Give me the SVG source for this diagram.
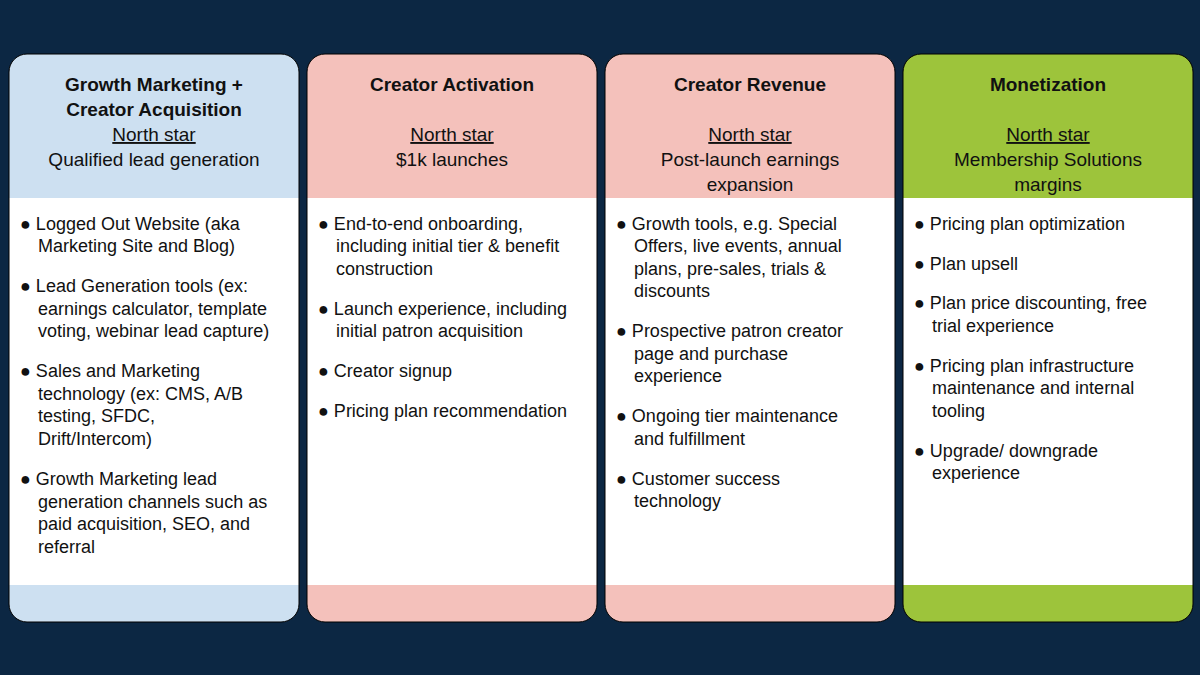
<svg xmlns="http://www.w3.org/2000/svg" width="1200" height="675" viewBox="0 0 1200 675">
<defs>
<style>
text{font-family:"Liberation Sans",Arial,sans-serif;fill:#111;font-size:18px}
.t{font-weight:bold;font-size:19px;text-anchor:middle}
.h{text-anchor:middle;font-size:19px}
.u{text-decoration:underline}
.b{font-size:18px}
</style>
<clipPath id="c1"><rect x="9" y="54" width="290" height="568" rx="18"/></clipPath>
<clipPath id="c2"><rect x="307" y="54" width="290" height="568" rx="18"/></clipPath>
<clipPath id="c3"><rect x="605" y="54" width="290" height="568" rx="18"/></clipPath>
<clipPath id="c4"><rect x="903" y="54" width="290" height="568" rx="18"/></clipPath>
</defs>
<rect width="1200" height="675" fill="#0c2743"/>
<g id="card1">
<g clip-path="url(#c1)"><rect x="9" y="54" width="290" height="568" fill="#cde0f1"/><rect x="9" y="198" width="290" height="387" fill="#fff"/></g>
<rect x="9" y="54" width="290" height="568" rx="18" fill="none" stroke="#000" stroke-width="1"/>
<text class="t" x="154" y="91">Growth Marketing +</text>
<text class="t" x="154" y="116">Creator Acquisition</text>
<text class="h u" x="154" y="141">North star</text>
<text class="h" x="154" y="166">Qualified lead generation</text>
<g class="b">
<text x="20" y="230">● Logged Out Website (aka</text><text x="38" y="252">Marketing Site and Blog)</text>
<text x="20" y="292">● Lead Generation tools (ex:</text><text x="38" y="315">earnings calculator, template</text><text x="38" y="337">voting, webinar lead capture)</text>
<text x="20" y="377">● Sales and Marketing</text><text x="38" y="400">technology (ex: CMS, A/B</text><text x="38" y="422">testing, SFDC,</text><text x="38" y="445">Drift/Intercom)</text>
<text x="20" y="485">● Growth Marketing lead</text><text x="38" y="508">generation channels such as</text><text x="38" y="530">paid acquisition, SEO, and</text><text x="38" y="553">referral</text>
</g>
</g>
<g id="card2">
<g clip-path="url(#c2)"><rect x="307" y="54" width="290" height="568" fill="#f4c1bb"/><rect x="307" y="198" width="290" height="387" fill="#fff"/></g>
<rect x="307" y="54" width="290" height="568" rx="18" fill="none" stroke="#000" stroke-width="1"/>
<text class="t" x="452" y="91">Creator Activation</text>
<text class="h u" x="452" y="141">North star</text>
<text class="h" x="452" y="166">$1k launches</text>
<text x="318" y="230">● End-to-end onboarding,</text><text x="336" y="252">including initial tier &amp; benefit</text><text x="336" y="275">construction</text>
<text x="318" y="315">● Launch experience, including</text><text x="336" y="337">initial patron acquisition</text>
<text x="318" y="377">● Creator signup</text>
<text x="318" y="417">● Pricing plan recommendation</text>
</g>
<g id="card3">
<g clip-path="url(#c3)"><rect x="605" y="54" width="290" height="568" fill="#f4c1bb"/><rect x="605" y="198" width="290" height="387" fill="#fff"/></g>
<rect x="605" y="54" width="290" height="568" rx="18" fill="none" stroke="#000" stroke-width="1"/>
<text class="t" x="750" y="91">Creator Revenue</text>
<text class="h u" x="750" y="141">North star</text>
<text class="h" x="750" y="166">Post-launch earnings</text>
<text class="h" x="750" y="191">expansion</text>
<text x="616" y="230">● Growth tools, e.g. Special</text><text x="634" y="252">Offers, live events, annual</text><text x="634" y="275">plans, pre-sales, trials &amp;</text><text x="634" y="297">discounts</text>
<text x="616" y="337">● Prospective patron creator</text><text x="634" y="360">page and purchase</text><text x="634" y="382">experience</text>
<text x="616" y="422">● Ongoing tier maintenance</text><text x="634" y="445">and fulfillment</text>
<text x="616" y="485">● Customer success</text><text x="634" y="507">technology</text>
</g>
<g id="card4">
<g clip-path="url(#c4)"><rect x="903" y="54" width="290" height="568" fill="#9dc43b"/><rect x="903" y="198" width="290" height="387" fill="#fff"/></g>
<rect x="903" y="54" width="290" height="568" rx="18" fill="none" stroke="#000" stroke-width="1"/>
<text class="t" x="1048" y="91">Monetization</text>
<text class="h u" x="1048" y="141">North star</text>
<text class="h" x="1048" y="166">Membership Solutions</text>
<text class="h" x="1048" y="191">margins</text>
<text x="914" y="230">● Pricing plan optimization</text>
<text x="914" y="270">● Plan upsell</text>
<text x="914" y="309">● Plan price discounting, free</text><text x="932" y="332">trial experience</text>
<text x="914" y="372">● Pricing plan infrastructure</text><text x="932" y="394">maintenance and internal</text><text x="932" y="417">tooling</text>
<text x="914" y="457">● Upgrade/ downgrade</text><text x="932" y="479">experience</text>
</g>
<g id="connectors"/>
</svg>
